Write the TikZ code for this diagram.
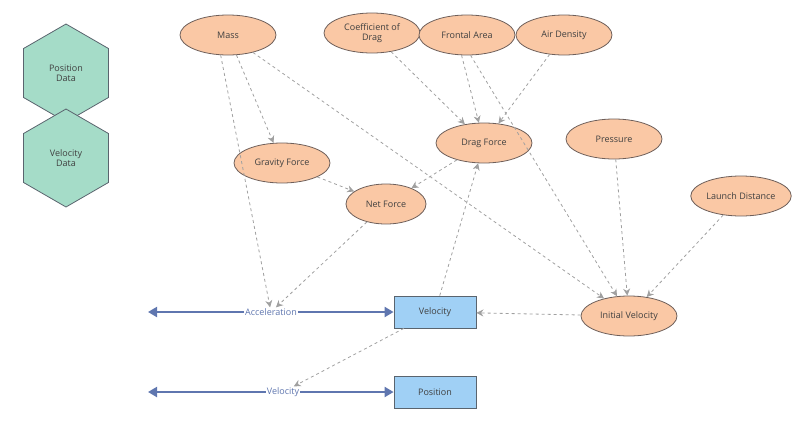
\documentclass[tikz,border=0pt]{standalone}
\usepackage{fontspec}
\setmainfont{Open Sans}
\usetikzlibrary{shapes.geometric, arrows.meta}

\definecolor{aux}{RGB}{250,200,165}
\definecolor{auxline}{RGB}{110,95,90}
\definecolor{stock}{RGB}{160,208,245}
\definecolor{stockline}{RGB}{90,100,110}
\definecolor{hexfill}{RGB}{165,220,200}
\definecolor{flowcol}{RGB}{95,118,175}
\definecolor{linkcol}{RGB}{160,160,160}

\tikzset{
  var/.style = {ellipse, draw = auxline, fill = aux, thick, minimum width = 96pt,
    minimum height = 40pt, inner sep = 1pt, align = center, font = \fontsize{9}{10}\selectfont, text = black!75},
  stock/.style = {rectangle, draw = stockline, fill = stock, thick, minimum width = 82pt,
    minimum height = 32pt, font = \fontsize{9}{10}\selectfont, text = black!75},
  datum/.style = {regular polygon, regular polygon sides = 6, shape border rotate = 90,
    draw = stockline, fill = hexfill, thick, minimum width = 96pt, minimum height = 40pt,
    inner sep = 0pt, align = center, font = \fontsize{9}{10}\selectfont, text = black!75},
  flowlabel/.style = {fill = white, inner sep = 1pt, font = \fontsize{9}{10}\selectfont, text = flowcol},
  flow/.style = {draw = flowcol, line width = 2pt, -{Triangle[length = 9pt, width = 10pt]}},
  link/.style = {draw = linkcol, thick, dashed, -{Stealth[length = 7pt, width = 7pt]}}
}

\begin{document}
\begin{tikzpicture}[x = 1pt, y = -1pt]
  \useasboundingbox (0, 0) rectangle (800, 423);

  % data hexagons
  \node[datum, minimum width = 98pt, minimum height = 44pt, regular polygon sides = 6] (posdata) at (66, 73) {};
  \node[align = center, font = \fontsize{9}{10}\selectfont, text = black!75] (posdatatext) at (66, 73) {Position\\Data};
  \node[datum, minimum width = 98pt, minimum height = 44pt] (veldata) at (66, 158) {};
  \node[align = center, font = \fontsize{9}{10}\selectfont, text = black!75] (veldatatext) at (66, 158) {Velocity\\Data};

  % converters
  \node[var] (mass) at (228, 35) {Mass};
  \node[var] (coef) at (372, 33) {Coefficient of\\Drag};
  \node[var] (area) at (467, 35) {Frontal Area};
  \node[var] (air) at (564, 35) {Air Density};
  \node[var] (gravity) at (282, 163) {Gravity Force};
  \node[var] (drag) at (484, 143) {Drag Force};
  \node[var] (pressure) at (614, 139) {Pressure};
  \node[var, minimum width = 80pt] (net) at (386, 204) {Net Force};
  \node[var] (launch) at (741, 196) {Launch Distance};
  \node[var] (initvel) at (629, 316) {Initial Velocity};

  % stocks
  \node[stock] (velocity) at (435, 312) {Velocity};
  \node[stock] (position) at (435, 392) {Position};

  % flows
  \coordinate (accsrc) at (148, 312);
  \coordinate (velsrc) at (148, 392);
  \node[flowlabel] (acc) at (271, 312) {Acceleration};
  \node[flowlabel] (velflow) at (283, 392) {Velocity};
  \draw[flow] (acc) -- (accsrc);
  \draw[flow] (acc) -- (velocity);
  \draw[flow] (velflow) -- (velsrc);
  \draw[flow] (velflow) -- (position);

  % links
  \draw[link] (mass) -- (gravity);
  \draw[link] (mass.250) -- (acc);
  \draw[link] (mass) -- (initvel);
  \draw[link] (coef) -- (drag);
  \draw[link] (area.255) -- (drag);
  \draw[link] (area.280) -- (initvel);
  \draw[link] (air) -- (drag);
  \draw[link] (gravity) -- (net);
  \draw[link] (drag) -- (net);
  \draw[link] (net) -- (acc);
  \draw[link] (velocity) -- (drag);
  \draw[link] (velocity) -- (velflow);
  \draw[link] (pressure) -- (initvel);
  \draw[link] (launch) -- (initvel);
  \draw[link] (initvel) -- (velocity);
\end{tikzpicture}
\end{document}
